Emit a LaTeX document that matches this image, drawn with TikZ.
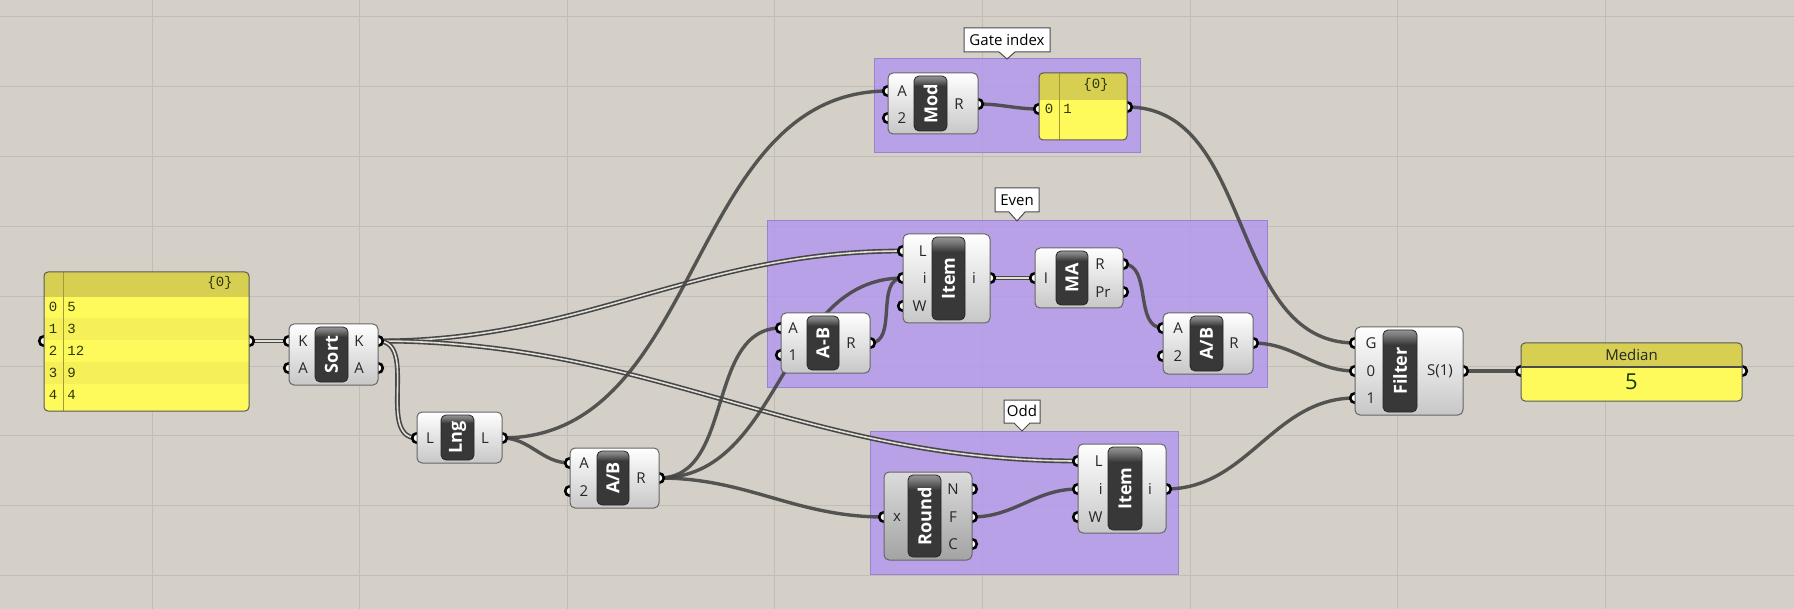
\documentclass[tikz,border=0pt]{standalone}
\usepackage{fontspec}
\setmainfont{Open Sans}
\setmonofont{Liberation Mono}

\pgfdeclarelayer{under}
\pgfdeclarelayer{wires}
\pgfsetlayers{under,wires,main}

\definecolor{canvas}{RGB}{212,208,200}
\definecolor{gridc}{RGB}{193,189,182}
\definecolor{grpc}{RGB}{177,150,238}
\definecolor{grpline}{RGB}{150,132,205}
\definecolor{wirec}{RGB}{70,70,70}
\definecolor{listgap}{RGB}{226,223,216}
\definecolor{panely}{RGB}{255,250,92}
\definecolor{panelh}{RGB}{214,207,82}
\definecolor{panelrow}{RGB}{245,239,88}
\definecolor{paneltxt}{RGB}{45,55,10}
\definecolor{corec}{RGB}{56,56,56}
\definecolor{bigtxt}{RGB}{20,60,20}

\pgfdeclareverticalshading{coreshade}{100bp}{color(0bp)=(corec); color(25bp)=(corec); color(66bp)=(corec); color(72bp)=(black!52); color(75bp)=(black!42); color(100bp)=(black!42)}

\tikzset{
  gridline/.style={draw=gridc, line width=0.5pt},
  group/.style={fill=grpc, fill opacity=0.8, draw=grpline, line width=0.5pt},
  tag/.style={fill=white, draw=black!70, line width=0.5pt},
  tagtext/.style={font=\fontsize{7.5}{8}\selectfont, inner sep=0pt},
  body/.style={draw=black!60, line width=0.5pt, rounded corners=2.5pt, top color=white, bottom color=black!22},
  graybody/.style={body, top color=black!14, bottom color=black!36},
  core/.style={draw=black!85, line width=0.4pt, rounded corners=2.5pt, shade, shading=coreshade},
  title/.style={white, rotate=90, font=\bfseries\fontsize{9}{9}\selectfont, inner sep=0pt},
  port/.style={font=\fontsize{7.5}{7.5}\selectfont, inner sep=0pt, text=black!85},
  grip/.style={circle, draw=black, line width=1.3pt, fill=white, inner sep=0pt, minimum size=4.8pt},
  panelframe/.style={draw=black!65, line width=0.5pt, rounded corners=2pt},
  panelsep/.style={draw=black!25!panelh, line width=0.4pt},
  paneltext/.style={font=\ttfamily\fontsize{7}{7}\selectfont, text=paneltxt, inner sep=0pt},
  wire/.style={draw=wirec, line width=1.7pt, draw opacity=0.9},
  listwire/.style={draw=wirec, line width=0.8pt, double=listgap, double distance=0.8pt},
}

\begin{document}
\begin{tikzpicture}[x=0.5pt,y=-0.5pt]
\useasboundingbox (0,0) rectangle (1794,609);
\begin{pgfonlayer}{under}
\fill[canvas] (0,0) rectangle (1794,609);
\foreach \gx in {152,359.6,...,1794} \draw[gridline] (\gx,0) -- (\gx,609);
\foreach \gy in {17,86.8,...,609} \draw[gridline] (0,\gy) -- (1794,\gy);
\draw[group] (874,59) rectangle (1140,153);
\draw[group] (767,221) rectangle (1267,387);
\draw[group] (870,431) rectangle (1178,574);
\end{pgfonlayer}

% group tags
\draw[tag] (964,28) -- (1050,28) -- (1050,52) -- (1015,52) -- (1007,59) -- (999,52) -- (964,52) -- cycle;
\node[tagtext] (gatetag) at (1007,40) {Gate index};
\draw[tag] (995,188) -- (1039,188) -- (1039,212) -- (1025,212) -- (1017,221) -- (1009,212) -- (995,212) -- cycle;
\node[tagtext] (eventag) at (1017,200) {Even};
\draw[tag] (1004,400) -- (1040,400) -- (1040,423) -- (1030,423) -- (1022,431) -- (1014,423) -- (1004,423) -- cycle;
\node[tagtext] (oddtag) at (1022,411) {Odd};

% number list
\begin{scope}[shift={(44,272)}]
\node[grip] (listin) at (0,69) {};
\node[grip] (listout) at (205,69) {};
\fill[panely, rounded corners=2pt] (0,0) rectangle (205,139);
\fill[panelh] (0,25) {[rounded corners=2pt] -- (0,0) -- (205,0)} -- (205,25) -- cycle;
\foreach \r in {1,3} \fill[panelrow] (0,24+22*\r) rectangle (205,46+22*\r);
\draw[panelsep] (19,0) -- (19,139);
\foreach \r/\v in {0/5,1/3,2/12,3/9,4/4} {
  \node[paneltext] (idx\r) at (9,35+22*\r) {\r};
  \node[paneltext, anchor=west] (val\r) at (23,35+22*\r) {\v};
}
\node[paneltext] (listpath) at (176,11) {\{0\}};
\draw[panelframe] (0,0) rectangle (205,139);
\end{scope}

% Sort
\begin{scope}[shift={(289,324)}]
\foreach \p/\y in {K/17,A/44} {
  \node[grip] (sortin\p) at (0,\y) {};
  \node[grip] (sortout\p) at (89,\y) {};
}
\draw[body] (0,0) rectangle (89,61);
\draw[core] (26,3) rectangle (59,58);
\node[title] (sortname) at (42.5,30.5) {Sort};
\foreach \p/\y in {K/17,A/44} {
  \node[port] (lsortin\p) at (14,\y) {\p};
  \node[port] (lsortout\p) at (70,\y) {\p};
}
\end{scope}

% Lng
\begin{scope}[shift={(417,412)}]
\node[grip] (lnginL) at (0,26) {};
\node[grip] (lngoutL) at (85,26) {};
\draw[body] (0,0) rectangle (85,51);
\draw[core] (24,3) rectangle (57,48);
\node[title] (lngname) at (40.5,25.5) {Lng};
\node[port] (llnginL) at (13,26) {L};
\node[port] (llngoutL) at (68,26) {L};
\end{scope}

% A/B half
\begin{scope}[shift={(570,448)}]
\foreach \p/\y in {A/15,2/43} \node[grip] (halfin\p) at (0,\y) {};
\node[grip] (halfoutR) at (89,30) {};
\draw[body] (0,0) rectangle (89,60);
\draw[core] (27,3) rectangle (59,57);
\node[title] (halfname) at (43,30) {A/B};
\foreach \p/\y in {A/15,2/43} \node[port] (lhalfin\p) at (14,\y) {\p};
\node[port] (lhalfoutR) at (71,30) {R};
\end{scope}

% Mod
\begin{scope}[shift={(888,73)}]
\foreach \p/\y in {A/18,2/45} \node[grip] (modin\p) at (0,\y) {};
\node[grip] (modoutR) at (90,31) {};
\draw[body] (0,0) rectangle (90,61);
\draw[core] (26,3) rectangle (59,58);
\node[title] (modname) at (42.5,30.5) {Mod};
\foreach \p/\y in {A/18,2/45} \node[port] (lmodin\p) at (14,\y) {\p};
\node[port] (lmodoutR) at (71,31) {R};
\end{scope}

% gate panel
\begin{scope}[shift={(1039,73)}]
\node[grip] (gatein) at (0,36) {};
\node[grip] (gateout) at (88,34) {};
\fill[panely, rounded corners=2pt] (0,0) rectangle (88,67);
\fill[panelh] (0,27) {[rounded corners=2pt] -- (0,0) -- (88,0)} -- (88,27) -- cycle;
\draw[panelsep] (20,0) -- (20,67);
\node[paneltext] (gateidx) at (10,36) {0};
\node[paneltext, anchor=west] (gateval) at (24,36) {1};
\node[paneltext] (gatepath) at (57,12) {\{0\}};
\draw[panelframe] (0,0) rectangle (88,67);
\end{scope}

% A-B
\begin{scope}[shift={(781,313)}]
\foreach \p/\y in {A/15,1/42} \node[grip] (subin\p) at (0,\y) {};
\node[grip] (suboutR) at (89,30) {};
\draw[body] (0,0) rectangle (89,60);
\draw[core] (26,3) rectangle (58,57);
\node[title] (subname) at (42,30) {A-B};
\foreach \p/\y in {A/15,1/42} \node[port] (lsubin\p) at (12,\y) {\p};
\node[port] (lsuboutR) at (70,30) {R};
\end{scope}

% Item (even)
\begin{scope}[shift={(903,234)}]
\foreach \p/\y in {L/17,i/44,W/72} \node[grip] (evitin\p) at (0,\y) {};
\node[grip] (evitouti) at (87,44) {};
\draw[body] (0,0) rectangle (87,89);
\draw[core] (29,3) rectangle (62,86);
\node[title] (evitname) at (45.5,44.5) {Item};
\foreach \p/\y in {L/17,i/44,W/72} \node[port, anchor=east] (levitin\p) at (24,\y) {\p};
\node[port] (levitouti) at (71,44) {i};
\end{scope}

% MA
\begin{scope}[shift={(1035,248)}]
\node[grip] (mainI) at (0,30) {};
\foreach \p/\y in {R/16,Pr/44} \node[grip] (maout\p) at (88,\y) {};
\draw[body] (0,0) rectangle (88,60);
\draw[core] (21,3) rectangle (53,57);
\node[title] (maname) at (37,30) {MA};
\node[port] (lmainI) at (11,30) {I};
\foreach \p/\y in {R/16,Pr/44} \node[port, anchor=west] (lmaout\p) at (60,\y) {\p};
\end{scope}

% A/B average
\begin{scope}[shift={(1163,313)}]
\foreach \p/\y in {A/15,2/43} \node[grip] (avgin\p) at (0,\y) {};
\node[grip] (avgoutR) at (90,30) {};
\draw[body] (0,0) rectangle (90,61);
\draw[core] (27,3) rectangle (60,58);
\node[title] (avgname) at (43.5,30.5) {A/B};
\foreach \p/\y in {A/15,2/43} \node[port] (lavgin\p) at (15,\y) {\p};
\node[port] (lavgoutR) at (71,30) {R};
\end{scope}

% Round
\begin{scope}[shift={(884,472)}]
\node[grip] (roundinx) at (0,45) {};
\foreach \p/\y in {N/17,F/45,C/72} \node[grip] (roundout\p) at (88,\y) {};
\draw[body, graybody] (0,0) rectangle (88,88);
\draw[core] (24,3) rectangle (57,85);
\node[title] (roundname) at (40.5,44) {Round};
\node[port] (lroundinx) at (13,45) {x};
\foreach \p/\y in {N/17,F/45,C/72} \node[port] (lroundout\p) at (69,\y) {\p};
\end{scope}

% Item (odd)
\begin{scope}[shift={(1078,444)}]
\foreach \p/\y in {L/17,i/45,W/73} \node[grip] (oditin\p) at (0,\y) {};
\node[grip] (oditouti) at (88,45) {};
\draw[body] (0,0) rectangle (88,89);
\draw[core] (30,3) rectangle (64,86);
\node[title] (oditname) at (47,44.5) {Item};
\foreach \p/\y in {L/17,i/45,W/73} \node[port, anchor=east] (loditin\p) at (25,\y) {\p};
\node[port] (loditouti) at (72,45) {i};
\end{scope}

% Filter
\begin{scope}[shift={(1355,327)}]
\foreach \p/\y in {G/16,0/44,1/71} \node[grip] (filtin\p) at (0,\y) {};
\node[grip] (filtoutS) at (108,44) {};
\draw[body] (0,0) rectangle (108,88);
\draw[core] (28,3) rectangle (62,85);
\node[title] (filtname) at (45,44) {Filter};
\foreach \p/\y in {G/16,0/44,1/71} \node[port] (lfiltin\p) at (16,\y) {\p};
\node[port] (lfiltoutS) at (85,44) {S(1)};
\end{scope}

% Median
\begin{scope}[shift={(1521,343)}]
\node[grip] (medin) at (0,28) {};
\node[grip] (medout) at (221,28) {};
\fill[panely, rounded corners=2pt] (0,0) rectangle (221,58);
\fill[panelh] (0,24) {[rounded corners=2pt] -- (0,0) -- (221,0)} -- (221,24) -- cycle;
\draw[black!70, line width=0.8pt] (0,24) -- (221,24);
\node[port] (medname) at (110.5,12) {Median};
\node[font=\fontsize{11}{11}\selectfont, text=bigtxt, inner sep=0pt] (medval) at (110.5,39) {5};
\draw[panelframe] (0,0) rectangle (221,58);
\end{scope}

% wires
\begin{pgfonlayer}{wires}
\draw[listwire] (listout.center) -- (sortinK.center);
\draw[listwire] (sortoutK.center) to[out=0,in=180] (evitinL.center);
\draw[listwire] (sortoutK.center) to[out=0,in=180] (oditinL.center);
\draw[listwire] (sortoutK.center) to[out=0,in=180] (lnginL.center);
\draw[wire] (lngoutL.center) to[out=0,in=180] (modinA.center);
\draw[wire] (lngoutL.center) to[out=0,in=180] (halfinA.center);
\draw[wire] (halfoutR.center) to[out=0,in=180] (subinA.center);
\draw[wire] (halfoutR.center) to[out=0,in=180] (evitini.center);
\draw[wire] (halfoutR.center) to[out=0,in=180] (roundinx.center);
\draw[wire] (suboutR.center) to[out=0,in=180] (evitini.center);
\draw[listwire] (evitouti.center) -- (mainI.center);
\draw[wire] (maoutR.center) to[out=0,in=180] (avginA.center);
\draw[wire] (modoutR.center) to[out=0,in=180] (gatein.center);
\draw[wire] (avgoutR.center) to[out=0,in=180] (filtin0.center);
\draw[wire] (gateout.center) to[out=0,in=180] (filtinG.center);
\draw[wire] (roundoutF.center) to[out=0,in=180] (oditini.center);
\draw[wire] (oditouti.center) to[out=0,in=180] (filtin1.center);
\draw[wire] (filtoutS.center) -- (medin.center);
\end{pgfonlayer}
\end{tikzpicture}
\end{document}
